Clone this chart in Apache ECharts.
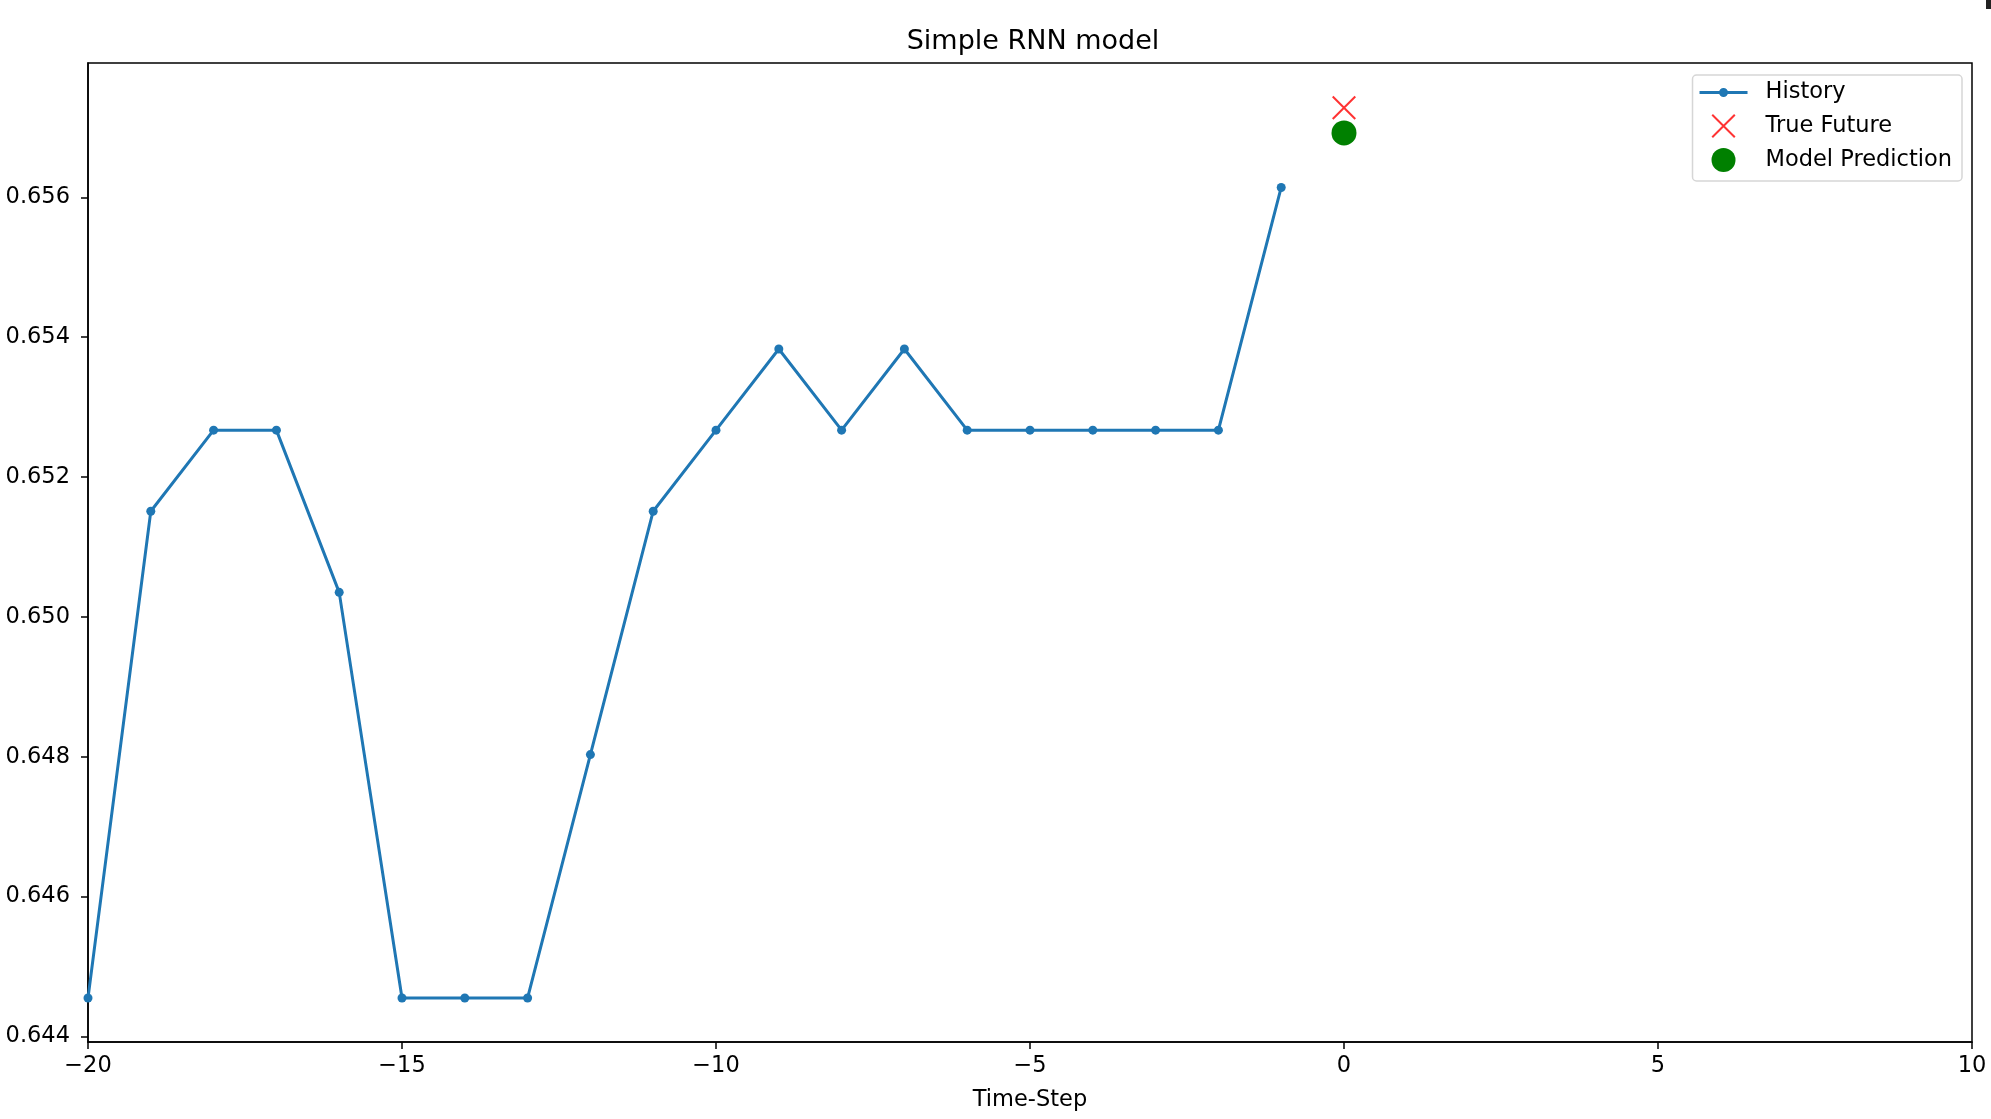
<!DOCTYPE html>
<html>
<head>
<meta charset="utf-8">
<title>Simple RNN model</title>
<script src="https://cdn.jsdelivr.net/npm/echarts@6/dist/echarts.min.js"></script>
<style>
  html, body { margin: 0; padding: 0; background: #fff; }
  #chart { width: 1991px; height: 1119px; }
</style>
</head>
<body>
<div id="chart"></div>
<script>
// time steps of the history window
var historySteps = [-20, -19, -18, -17, -16, -15, -14, -13, -12, -11, -10, -9, -8, -7, -6, -5, -4, -3, -2, -1];
var historyValues = [0.64455, 0.65151, 0.65267, 0.65267, 0.65035, 0.64455, 0.64455, 0.64455, 0.64803, 0.65151,
                     0.65267, 0.65383, 0.65267, 0.65383, 0.65267, 0.65267, 0.65267, 0.65267, 0.65267, 0.65614];
var futureStep = [0];
var trueFuture = [0.65728];
var modelPrediction = [0.65692];
var yTicks = [0.644, 0.646, 0.648, 0.650, 0.652, 0.654, 0.656];

var FONT = 'DejaVu Sans';
// X marker drawn as a filled shape
var crossPath = 'path://M0,6L6,0L100,94L94,100Z M6,100L0,94L94,0L100,6Z';
// line + dot legend icon
var lineDotPath = 'path://M0,3h48v3h-48z M19.5,4.5a4.5,4.5 0 1,1 9,0a4.5,4.5 0 1,1 -9,0z';

function fmtX(v) {
    return v < 0 ? '\u2212' + Math.abs(v) : String(v);
}

var chart = echarts.init(document.getElementById('chart'));
chart.setOption({
    animation: false,
    backgroundColor: '#fff',
    title: {
        text: 'Simple RNN model',
        left: 1028,
        top: 23,
        textAlign: 'center',
        textStyle: { fontFamily: FONT, fontSize: 27, fontWeight: 'normal', color: '#000' }
    },
    legend: {
        right: 29,
        top: 75,
        orient: 'vertical',
        align: 'left',
        itemWidth: 48,
        itemHeight: 24,
        itemGap: 10,
        padding: [6, 10, 9, 7],
        borderColor: '#d6d6d6',
        borderWidth: 1.5,
        borderRadius: 4,
        backgroundColor: 'rgba(255,255,255,0.8)',
        itemStyle: { borderWidth: 0 },
        textStyle: { fontFamily: FONT, fontSize: 22.5, color: '#000', padding: [0, 0, 0, 13] },
        data: [
            { name: 'History', icon: lineDotPath },
            { name: 'True Future', icon: crossPath },
            { name: 'Model Prediction', icon: 'circle' }
        ]
    },
    grid: {
        left: 88,
        right: 19,
        top: 63,
        bottom: 77,
        show: true,
        borderColor: '#000',
        borderWidth: 1.5
    },
    xAxis: {
        type: 'value',
        min: -20,
        max: 10,
        interval: 5,
        name: 'Time-Step',
        nameLocation: 'middle',
        nameGap: 47,
        nameTextStyle: { fontFamily: FONT, fontSize: 22.5, color: '#000' },
        axisLine: { show: true, onZero: false, lineStyle: { color: '#000', width: 1.5 } },
        axisTick: { show: true, length: 7, lineStyle: { color: '#000', width: 1.5 } },
        axisLabel: {
            margin: 13,
            fontFamily: FONT,
            fontSize: 22.5,
            color: '#000',
            formatter: fmtX
        },
        splitLine: { show: false }
    },
    yAxis: {
        type: 'value',
        min: 0.64392,
        max: 0.65792,
        axisLine: { show: true, onZero: false, lineStyle: { color: '#000', width: 1.5 } },
        axisTick: { show: true, length: 7, customValues: yTicks, lineStyle: { color: '#000', width: 1.5 } },
        axisLabel: {
            margin: 18,
            fontFamily: FONT,
            fontSize: 22.5,
            color: '#000',
            customValues: yTicks,
            formatter: function (v) { return v.toFixed(3); }
        },
        splitLine: { show: false }
    },
    graphic: [
        { type: 'rect', right: 0, top: 0, shape: { width: 5, height: 9 }, style: { fill: '#222' } }
    ],
    series: [
        {
            name: 'History',
            type: 'line',
            data: historySteps.map(function (x, i) { return [x, historyValues[i]]; }),
            symbol: 'circle',
            symbolSize: 9,
            color: '#1f77b4',
            lineStyle: { width: 3, color: '#1f77b4' },
            itemStyle: { color: '#1f77b4', borderWidth: 0 }
        },
        {
            name: 'True Future',
            type: 'scatter',
            data: futureStep.map(function (x, i) { return [x, trueFuture[i]]; }),
            symbol: crossPath,
            symbolSize: 24,
            color: '#ff0000',
            itemStyle: { color: '#ff0000', borderWidth: 0 }
        },
        {
            name: 'Model Prediction',
            type: 'scatter',
            data: futureStep.map(function (x, i) { return [x, modelPrediction[i]]; }),
            symbol: 'circle',
            symbolSize: 25,
            color: '#008000',
            itemStyle: { color: '#008000', borderWidth: 0, opacity: 1 }
        }
    ]
});
</script>
</body>
</html>
